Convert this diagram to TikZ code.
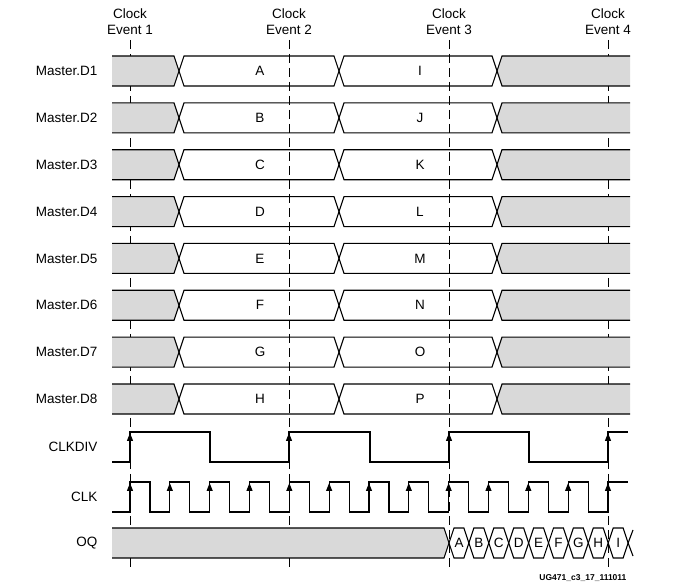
\documentclass[tikz,border=0pt]{standalone}
\usepackage{fontspec}
\setmainfont{Liberation Sans}
\usetikzlibrary{arrows.meta}
\begin{document}
\begin{tikzpicture}[x=1pt,y=-1pt,
  sig/.style={line width=1.1pt,line join=miter},
  clk/.style={dash pattern=on 9pt off 5pt,line width=0.6pt},
  lbl/.style={font=\fontsize{13.5}{16}\selectfont},
  tip/.style={-{Triangle[length=8pt,width=6pt]},line width=1.1pt},
  gray/.style={fill=black!15}]
\useasboundingbox (0,0) rectangle (673,585);
% clock event lines
\foreach \x/\n in {130/1,289/2,449/3,608/4}{
  \node[lbl,align=center] (ev\n) at (\x,22) {Clock\\Event \n};
  \coordinate (ct\n) at (\x,40); \coordinate (cb\n) at (\x,570);
  \draw[clk] (ct\n) -- (cb\n);}
% data rows
\foreach \i/\a/\b [count=\k from 0] in {1/A/I,2/B/J,3/C/K,4/D/L,5/E/M,6/F/N,7/G/O,8/H/P}{
  \pgfmathsetmacro\c{71+46.86*\k}
  \pgfmathsetmacro\t{\c-15}\pgfmathsetmacro\bo{\c+15}
  \node[lbl,anchor=east] (r\i) at (101,\c) {Master.D\i};
  \fill[gray] (112,\t) -- (174,\t) -- (179,\c) -- (174,\bo) -- (112,\bo) -- cycle;
  \fill[gray] (630,\t) -- (502,\t) -- (497,\c) -- (502,\bo) -- (630,\bo) -- cycle;
  \draw[sig] (112,\t) -- (174,\t) -- (184,\bo) -- (334,\bo) -- (344,\t) -- (492,\t) -- (502,\bo) -- (630,\bo);
  \draw[sig] (112,\bo) -- (174,\bo) -- (184,\t) -- (334,\t) -- (344,\bo) -- (492,\bo) -- (502,\t) -- (630,\t);
  \node[lbl] (a\i) at (260,\c) {\a};
  \node[lbl] (b\i) at (420,\c) {\b};
}
% CLKDIV
\node[lbl,anchor=east] (clkdiv) at (101,447) {CLKDIV};
\draw[sig] (112,462) -- (130,462) -- (130,432) -- (210,432) -- (210,462) -- (289,462) -- (289,432) -- (370,432) -- (370,462) -- (449,462) -- (449,432) -- (529,432) -- (529,462) -- (608,462) -- (608,432) -- (628,432);
\foreach \x in {130,289,449,608}{\draw[tip] (\x,452) -- (\x,433);}
% CLK
\node[lbl,anchor=east] (clk) at (101,497) {CLK};
\draw[sig] (112,512) \foreach \k in {0,...,11}{ -- ({130+39.83*\k},512) -- ({130+39.83*\k},482) -- ({150+39.83*\k},482) -- ({150+39.83*\k},512)} -- (608,512) -- (608,482) -- (628,482);
\foreach \k in {0,...,12}{\draw[tip] ({130+39.83*\k},502) -- ({130+39.83*\k},483);}
% OQ
\node[lbl,anchor=east] (oq) at (101,543) {OQ};
\fill[gray] (112,528) -- (444,528) -- (449,543) -- (444,558) -- (112,558) -- cycle;
\draw[sig] (112,528) -- (444,528) -- (449,543) -- (444,558) -- (112,558);
\foreach \l [count=\k from 0] in {A,B,C,D,E,F,G,H,I}{
  \pgfmathsetmacro\xa{449+19.9*\k}
  \draw[sig] (\xa,543) -- (\xa+5,528) -- (\xa+14.9,528) -- (\xa+19.9,543) -- (\xa+14.9,558) -- (\xa+5,558) -- cycle;
  \node[lbl] (o\k) at (\xa+10,543) {\l};}
\draw[sig] (628.1,543) -- (633,530); \draw[sig] (628.1,543) -- (633,556);
\node[font=\fontsize{8.5}{10}\selectfont\bfseries,anchor=east] (fig) at (630,578) {UG471\_c3\_17\_111011};
\end{tikzpicture}
\end{document}
